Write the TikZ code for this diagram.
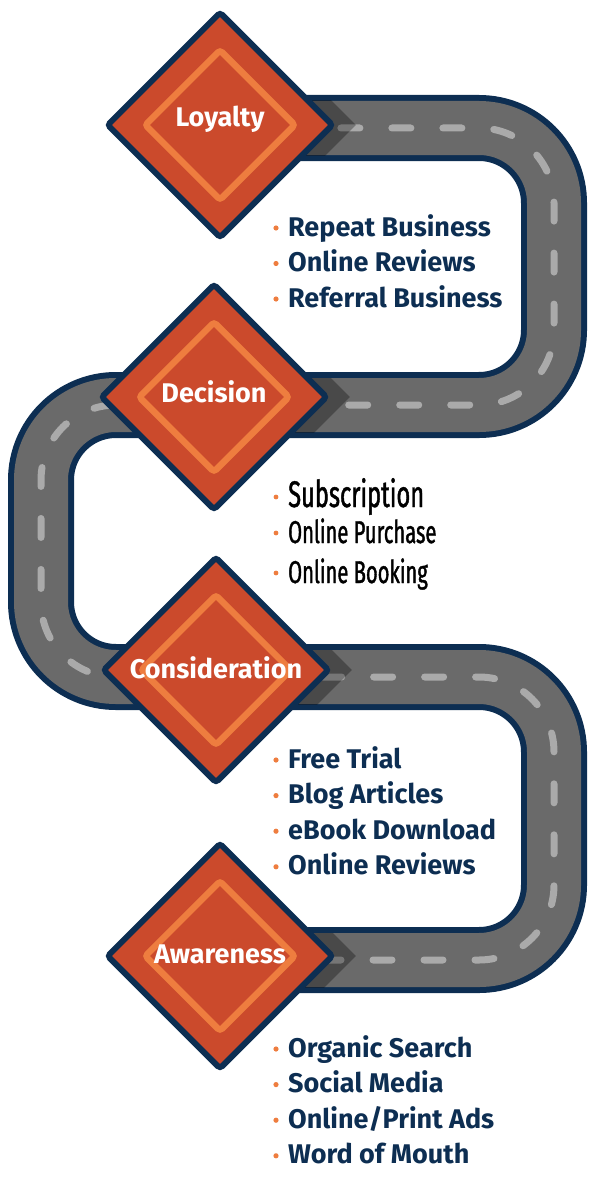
\documentclass[tikz,border=0pt]{standalone}
\usepackage{fontspec}
\setmainfont{Fira Sans}
\newfontfamily\condfont[FakeStretch=0.64,FakeBold=1.2]{Fira Sans}
\usetikzlibrary{shapes.geometric}
\definecolor{navy}{HTML}{0D2E52}
\definecolor{asphalt}{HTML}{6A6A6A}
\definecolor{paint}{HTML}{AAAAAA}
\definecolor{brick}{HTML}{CB4A2C}
\definecolor{tangerine}{HTML}{EE7D3F}

\begin{document}
\begin{tikzpicture}[x=1pt,y=-1pt,
  roadedge/.style={line width=66pt,draw=navy,rounded corners=75pt},
  roadbed/.style={line width=54pt,draw=asphalt,rounded corners=75pt},
  roadline/.style={line width=7pt,draw=paint,rounded corners=75pt,line cap=round,dash pattern=on 19pt off 32pt},
  stage/.style={diamond,aspect=1,inner sep=0pt,minimum size=227pt,fill=brick,draw=navy,line width=6pt,rounded corners=3pt},
  stagein/.style={diamond,aspect=1,inner sep=0pt,minimum size=152pt,draw=tangerine,line width=6.5pt,rounded corners=3pt},
  shade/.style={diamond,aspect=1,inner sep=0pt,minimum size=232pt,fill=black,opacity=0.3},
  stagetext/.style={anchor=base,inner sep=0pt,text=white,font=\bfseries\fontsize{27}{30}\selectfont},
  item/.style={anchor=base west,inner sep=0pt,text=navy,font=\bfseries\fontsize{27}{30}\selectfont},
  conditem/.style={anchor=base west,inner sep=0pt,text=black}]
\useasboundingbox (0,0) rectangle (590,1188);
% road rows and turning columns
\coordinate (awr) at (220,960);
\coordinate (conr) at (216,677);
\coordinate (decr) at (214,405);
\coordinate (loyr) at (220,128);
\coordinate (east) at (554,0);
\coordinate (west) at (41,0);
\foreach \s in {roadedge,roadbed,roadline}
  \draw[\s] (awr) -- (awr -| east) -- (conr -| east) -- (conr -| west) -- (decr -| west) -- (decr -| east) -- (loyr -| east) -- (loyr);
% stages
\foreach \n/\x/\y/\r/\b/\t in {aw/220/956/960/963/Awareness,con/216/670/677/678/Consideration,dec/214/397/405/402/Decision,loy/220/125/128/127/Loyalty}{
  \begin{scope}
    \clip (\x,\r-27) rectangle (\x+170,\r+27);
    \node[shade] (\n sh) at (\x+20,\y) {};
  \end{scope}
  \node[stage] (\n) at (\x,\y) {};
  \node[stagein] (\n in) at (\n) {};
  \node[stagetext] (\n txt) at (\x,\b) {\t};
}
% lists
\foreach \t [count=\i from 0] in {Repeat Business,Online Reviews,Referral Business}{
  \node[item] (loy\i) at (288,236+35.5*\i) {\t};
  \fill[tangerine] ([shift={(-12pt,8pt)}]loy\i.base west) circle (2.6pt);
}
\foreach \t/\s/\y [count=\i from 0] in {Subscription/37/507,Online Purchase/31.5/543,Online Booking/31.5/583}{
  \node[conditem,font=\condfont\fontsize{\s}{\s}\selectfont] (dec\i) at (288,\y) {\t};
  \fill[tangerine] ([shift={(-12pt,10pt)}]dec\i.base west) circle (2.4pt);
}
\foreach \t [count=\i from 0] in {Free Trial,Blog Articles,eBook Download,Online Reviews}{
  \node[item] (con\i) at (288,768+35.6*\i) {\t};
  \fill[tangerine] ([shift={(-12pt,8pt)}]con\i.base west) circle (2.6pt);
}
\foreach \t [count=\i from 0] in {Organic Search,Social Media,Online/Print Ads,Word of Mouth}{
  \node[item] (aw\i) at (288,1057+35.6*\i) {\t};
  \fill[tangerine] ([shift={(-12pt,8pt)}]aw\i.base west) circle (2.6pt);
}
\end{tikzpicture}
\end{document}
